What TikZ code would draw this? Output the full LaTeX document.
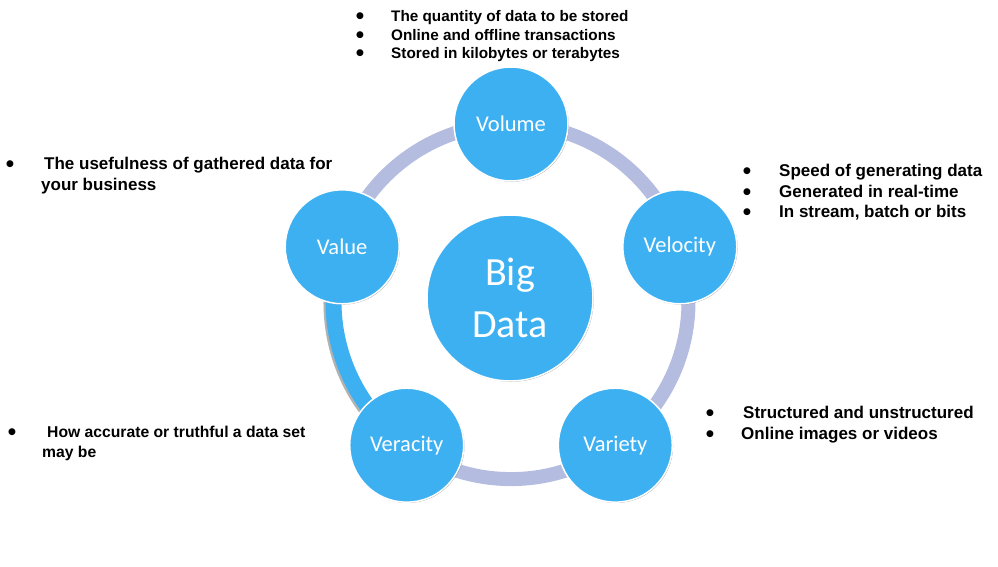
\documentclass[tikz,border=0pt]{standalone}
\usepackage{fontspec}
\setmainfont{Liberation Sans}
\newfontfamily\calib{Carlito}
\newfontfamily\dejavu{DejaVu Sans}
\usetikzlibrary{shadows}
\definecolor{bubblue}{HTML}{3DB0F2}
\definecolor{ringlav}{HTML}{B4BCE0}
\tikzset{
  bubble/.style={circle, fill=bubblue, draw=white, line width=1.5pt, minimum size=114pt, inner sep=0pt,
    text=white, font=\calib\fontsize{22.5}{27}\selectfont,
    drop shadow={shadow xshift=0.8pt, shadow yshift=-0.8pt, opacity=0.35, fill=black}},
  bigbubble/.style={bubble, minimum size=166pt, align=center, font=\calib\fontsize{40}{52}\selectfont},
  lbl/.style={anchor=base west, inner sep=0pt},
  fa/.style={font=\bfseries\fontsize{15.3}{18}\selectfont},
  fb/.style={font=\bfseries\fontsize{17}{20}\selectfont},
  fc/.style={font=\bfseries\fontsize{15.7}{19}\selectfont},
  bul/.style={anchor=base, inner sep=0pt, yshift=2pt, font=\dejavu\fontsize{9}{10}\selectfont},
  ringline/.style={line width=14pt, ringlav},
  bluearc/.style={line width=16pt, bubblue},
  arcshadow/.style={line width=16pt, black, opacity=0.3},
}
\begin{document}
\begin{tikzpicture}[x=1pt,y=1pt]
\useasboundingbox (0,0) rectangle (998,567);
\coordinate (rc) at (511,265.4);
% ring
\draw[ringline] (rc) circle[radius=177.5];
\draw[arcshadow] ([shift={(162:177.5)}]rc) ++(-2,-1.5) arc[start angle=162, end angle=234, radius=177.5];
\draw[bluearc] ([shift={(162:177.5)}]rc) arc[start angle=162, end angle=234, radius=177.5];
% bubbles
\node[bigbubble] (big) at (510,269) {Big\\Data};
\node[bubble] (vol) at (511,443) {Volume};
\node[bubble] (vel) at (679.8,320.2) {Velocity};
\node[bubble] (var) at (615.3,121.8) {Variety};
\node[bubble] (ver) at (406.7,121.8) {Veracity};
\node[bubble] (val) at (342.2,320.2) {Value};
% Volume list
\node[bul] (b1) at (360,546) {●};
\node[lbl,fa] (t1) at (391,545) {The quantity of data to be stored};
\node[bul] (b2) at (360,527.5) {●};
\node[lbl,fa] (t2) at (391,526.5) {Online and offline transactions};
\node[bul] (b3) at (360,509) {●};
\node[lbl,fa] (t3) at (391,508) {Stored in kilobytes or terabytes};
% Value
\node[bul] (b4) at (10,398) {●};
\node[lbl,fb] (t4) at (44,397) {The usefulness of gathered data for};
\node[lbl,fb] (t4b) at (41,376) {your business};
% Velocity
\node[bul] (b5) at (747,391) {●};
\node[lbl,fb] (t5) at (779,390) {Speed of generating data};
\node[bul] (b6) at (747,370.5) {●};
\node[lbl,fb] (t6) at (779,369.5) {Generated in real-time};
\node[bul] (b7) at (747,350) {●};
\node[lbl,fb] (t7) at (779,349) {In stream, batch or bits};
% Variety
\node[bul] (b8) at (710,149) {●};
\node[lbl,fb] (t8) at (743,148) {Structured and unstructured};
\node[bul] (b9) at (710,128) {●};
\node[lbl,fb] (t9) at (741,127) {Online images or videos};
% Veracity
\node[bul] (b10) at (12,130) {●};
\node[lbl,fc] (t10) at (47,129) {How accurate or truthful a data set};
\node[lbl,fc] (t10b) at (42,109) {may be};
\end{tikzpicture}
\end{document}
